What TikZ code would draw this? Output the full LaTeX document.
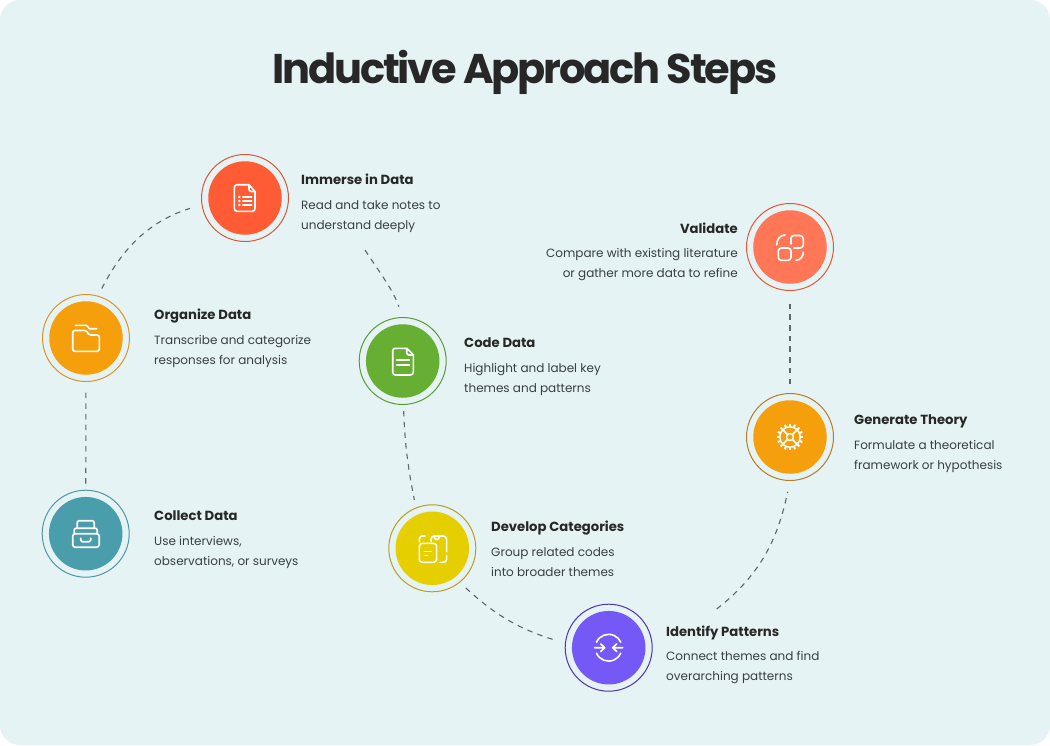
\documentclass[tikz,border=0pt]{standalone}
\usepackage{fontspec}
\setmainfont{Poppins}
\usetikzlibrary{arrows.meta}
\definecolor{bgc}{HTML}{E5F3F4}
\definecolor{ink}{HTML}{272727}
\definecolor{ink2}{HTML}{3A3F40}
\definecolor{dashc}{HTML}{5F6668}
\definecolor{rimm}{HTML}{D4583A}\definecolor{fimm}{HTML}{FF5C35}
\definecolor{rorg}{HTML}{D9942A}\definecolor{forg}{HTML}{F69F0D}
\definecolor{rcol}{HTML}{4F97A5}\definecolor{fcol}{HTML}{4A9DAA}
\definecolor{rcod}{HTML}{5C9A36}\definecolor{fcod}{HTML}{67AF33}
\definecolor{rdev}{HTML}{B8A01E}\definecolor{fdev}{HTML}{E6CF00}
\definecolor{ride}{HTML}{4E32B0}\definecolor{fide}{HTML}{7459F7}
\definecolor{rgen}{HTML}{B67C26}\definecolor{fgen}{HTML}{F69F0D}
\definecolor{rval}{HTML}{E8563A}\definecolor{fval}{HTML}{FF7757}
\tikzset{
  x=1pt,y=-1pt,
  ringn/.style={circle,draw=#1,line width=1pt,minimum size=87pt,inner sep=0pt},
  discn/.style={circle,fill=#1,minimum size=73.5pt,inner sep=0pt},
  conn/.style={draw=dashc,line width=1.1pt,dash pattern=on 5.5pt off 5.2pt},
  ttl/.style={font=\bfseries\fontsize{41.5}{46}\selectfont\addfontfeature{LetterSpace=-5.4},text=ink,inner sep=0pt},
  hd/.style={font=\bfseries\fontsize{13.2}{16}\selectfont,text=ink,inner sep=0pt},
  dsc/.style={font=\fontsize{12}{20}\selectfont,text=ink2,inner sep=0pt,align=left},
  dscr/.style={font=\fontsize{12}{20}\selectfont,text=ink2,inner sep=0pt,align=right},
  ic/.style={draw=white,line width=1.6pt,line cap=round,line join=round},
}
\begin{document}
\begin{tikzpicture}
\useasboundingbox (0,0) rectangle (1050,745);
\fill[white] (0,0) rectangle (1050,745);
\fill[bgc,rounded corners=20pt] (0,0) rectangle (1050,745);
\node[ttl,anchor=base] (title) at (525,83) {Inductive Approach Steps};

% discs and rings
\node[ringn=rimm] (imm) at (245,198) {};
\node[discn=fimm] (immd) at (245,198) {};
\node[ringn=rorg] (org) at (86,338) {};
\node[discn=forg] (orgd) at (86,338) {};
\node[ringn=rcol] (col) at (85.7,533.7) {};
\node[discn=fcol] (cold) at (85.7,533.7) {};
\node[ringn=rcod] (cod) at (402.7,361) {};
\node[discn=fcod] (codd) at (402.7,361) {};
\node[ringn=rdev] (dev) at (432.3,548.3) {};
\node[discn=fdev] (devd) at (432.3,548.3) {};
\node[ringn=ride] (ide) at (608.7,647.7) {};
\node[discn=fide] (ided) at (608.7,647.7) {};
\node[ringn=rgen] (gen) at (790,437) {};
\node[discn=fgen] (gend) at (790,437) {};
\node[ringn=rval] (val) at (790,247) {};
\node[discn=fval] (vald) at (790,247) {};

% free ends of the two connectors that start away from their circle
\coordinate (immout) at (365,250);
\coordinate (ideout) at (716.7,609);

% connectors
\draw[conn,shorten <=6pt,shorten >=9pt] (col) -- (org);
\draw[conn,shorten <=8pt,shorten >=12pt] (org.74) to[out=63,in=197] (imm.189);
\draw[conn,shorten >=11pt] (immout) to[out=-57,in=110] (cod.90);
\draw[conn,shorten <=6pt,shorten >=7.5pt] (cod.-89) to[out=-88,in=101] (dev.112);
\draw[conn,shorten <=8pt,shorten >=11pt] (dev.-51) to[out=-43,in=163] (ide.174);
\draw[conn,shorten >=11pt] (ideout) to[out=38,in=258] (gen.-90);
\draw[conn,shorten <=9pt,shorten >=9pt] (gen) -- (val);

% icons
\begin{scope}[shift={(245,198)}]
\draw[ic] (4,-13.3) -- (-8,-13.3) to[out=180,in=90] (-10.7,-10.5) -- (-10.7,10.5) to[out=-90,in=180] (-8,13.3) -- (7.5,13.3) to[out=0,in=-90] (10,10.5) -- (10,-6.5) -- (4,-13.3) -- (4,-9) to[out=-90,in=180] (6,-6.5) -- (10,-6.5);
\draw[ic] (-2.3,-1) -- (6.7,-1) (-2.3,3) -- (6.7,3) (-2.3,7) -- (6.7,7);
\draw[ic,line width=.8pt] (-5.7,-1) circle (.9) (-5.7,3) circle (.9) (-5.7,7) circle (.9);
\end{scope}
\begin{scope}[shift={(86,338)}]
\draw[ic] (-10.7,-12.7) -- (0,-12.7) to[out=0,in=140] (3.3,-9.3) -- (10.7,-9.3);
\draw[ic] (-13.3,-5.5) to[out=90,in=180] (-11,-7.5) -- (-1,-7.5) to[out=0,in=130] (2.5,-4) to[out=-50,in=180] (5,-3) -- (11,-3) to[out=0,in=90] (13.3,-1) -- (13.3,11) to[out=-90,in=0] (11,13.3) -- (-11,13.3) to[out=180,in=-90] (-13.3,11) -- cycle;
\end{scope}
\begin{scope}[shift={(85.7,533.7)}]
\draw[ic,rounded corners=2pt] (-8.5,-5.5) -- (-8.5,-13) -- (8.5,-13) -- (8.5,-5.5);
\draw[ic,rounded corners=2pt] (-11.5,0) -- (-11.5,-5.5) -- (11.5,-5.5) -- (11.5,0);
\draw[ic,rounded corners=2.5pt] (-13,0) rectangle (13.5,13.5);
\draw[ic,rounded corners=1.5pt] (-5,4.5) -- (-5,8) -- (5,8) -- (5,4.5);
\end{scope}
\begin{scope}[shift={(402.7,361)}]
\draw[ic] (4,-12.7) -- (-7.5,-12.7) to[out=180,in=90] (-10,-10) -- (-10,11) to[out=-90,in=180] (-7.5,14) -- (7.5,14) to[out=0,in=-90] (10.7,11) -- (10.7,-6) -- (4,-12.7) -- (4,-8.5) to[out=-90,in=180] (6,-6) -- (10.7,-6);
\draw[ic] (-6,-1) -- (6.7,-1) (-6,4) -- (6.7,4);
\end{scope}
\begin{scope}[shift={(432.3,548.3)}]
\draw[ic] (-13,-6.5) -- (-13,-9.2) to[out=90,in=180] (-10,-12.3) -- (-7.3,-12.3);
\draw[ic,rounded corners=3pt] (-13,-5) rectangle (4.3,14);
\draw[ic] (-8,3.3) -- (-1.3,3.3) (-8,7.3) -- (-4.7,7.3);
\draw[ic] (-1.2,-6.7) -- (-1.2,-9.2) to[out=90,in=180] (1.7,-12.3) -- (11,-12.3) to[out=0,in=90] (14.3,-9) -- (14.3,3.3);
\draw[ic] (2,-12.3) -- (2,-10.5) to[out=-90,in=180] (3.5,-9) -- (5.5,-9) to[out=0,in=-90] (7,-10.5) -- (7,-12.3);
\draw[ic] (14.3,7.3) -- (14.3,11) to[out=-90,in=0] (11,14) -- (7.7,14);
\end{scope}
\begin{scope}[shift={(608.7,647.7)}]
\draw[ic] (-12.2,-5.5) arc[start angle=204,end angle=336,radius=13.3];
\draw[ic] (-12.2,5.5) arc[start angle=156,end angle=24,radius=13.3];
\draw[ic] (-14,0) -- (-4,0) (-8,-3.8) -- (-4,0) -- (-8,3.8);
\draw[ic] (14,0) -- (4,0) (8,-3.8) -- (4,0) -- (8,3.8);
\end{scope}
\begin{scope}[shift={(790,437)}]
\draw[ic,line width=1.5pt] (0,0) circle (10.2) (0,0) circle (3.5);
\foreach \a in {45,135,225,315}{\draw[ic,line width=1.5pt] (\a:3.5) -- (\a:10.2);}
\foreach \a in {0,22.5,...,337.5}{\draw[ic,line width=2pt,line cap=butt] (\a:10) -- (\a:13.3);}
\end{scope}
\begin{scope}[shift={(790,247)}]
\draw[ic,rounded corners=3pt] (-11.7,1) rectangle (1,13.3);
\draw[ic] (-13.3,-2) to[out=90,in=180] (-5,-12);
\draw[ic] (1,-3) -- (1,-9) to[out=90,in=180] (4,-11.5) -- (10,-11.5) to[out=0,in=90] (13.3,-8) -- (13.3,-2) to[out=-90,in=0] (10,1) -- (4,1);
\draw[ic] (13.3,5) to[out=-90,in=0] (6,13.3);
\end{scope}

% labels
\node[hd,anchor=base west] (h1) at (301,184) {Immerse in Data};
\node[dsc,anchor=west] (d1) at (301,216.5) {Read and take notes to\\understand deeply};
\node[hd,anchor=base west] (h2) at (154,319) {Organize Data};
\node[dsc,anchor=west] (d2) at (154,351) {Transcribe and categorize\\responses for analysis};
\node[hd,anchor=base west] (h3) at (154,520) {Collect Data};
\node[dsc,anchor=west] (d3) at (154,552) {Use interviews,\\observations, or surveys};
\node[hd,anchor=base west] (h4) at (464,347) {Code Data};
\node[dsc,anchor=west] (d4) at (464,379) {Highlight and label key\\themes and patterns};
\node[hd,anchor=base west] (h5) at (491,531) {Develop Categories};
\node[dsc,anchor=west] (d5) at (491,562) {Group related codes\\into broader themes};
\node[hd,anchor=base west] (h6) at (666,636) {Identify Patterns};
\node[dsc,anchor=west] (d6) at (666,668) {Connect themes and find\\overarching patterns};
\node[hd,anchor=base west] (h7) at (854,424) {Generate Theory};
\node[dsc,anchor=west] (d7) at (854,456) {Formulate a theoretical\\framework or hypothesis};
\node[hd,anchor=base east] (h8) at (738,233) {Validate};
\node[dscr,anchor=east] (d8) at (738,265) {Compare with existing literature\\or gather more data to refine};
\end{tikzpicture}
\end{document}
